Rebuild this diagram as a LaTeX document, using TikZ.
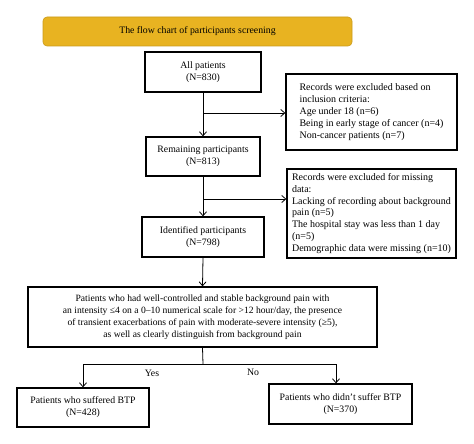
\documentclass[tikz,border=0pt]{standalone}
\usepackage{fontspec}
\setmainfont{Liberation Serif}
\usetikzlibrary{arrows.meta}
\definecolor{gold}{HTML}{E8B321}
\definecolor{golddark}{HTML}{C99A1A}
\tikzset{
  box/.style={draw=black, line width=1.3pt, inner sep=0pt, align=center,
    font=\fontsize{9.8}{12}\selectfont},
  exbox/.style={box, align=left, font=\fontsize{10}{11.8}\selectfont},
  conn/.style={line width=0.8pt, -{Straight Barb[length=4pt,width=7pt]}},
  line/.style={line width=0.8pt},
  lbl/.style={font=\fontsize{9.8}{11}\selectfont, inner sep=0pt}
}
\begin{document}
\begin{tikzpicture}[x=1pt,y=-1pt]
\useasboundingbox (0,0) rectangle (474,444);
\node[draw=golddark, fill=gold, rounded corners=4pt, line width=0.6pt,
  minimum width=309pt, minimum height=29pt, font=\fontsize{9.8}{10}\selectfont]
  (title) at (197.5,31.5) {The flow chart of participants screening};
\node[box, minimum width=116pt, minimum height=40pt] (all) at (203,72) {All patients\\(N=830)};
\node[exbox, minimum width=171pt, minimum height=76pt] (ex1) at (371.5,112)
  {Records were excluded based on\\inclusion criteria:\\Age under 18 (n=6)\\Being in early stage of cancer (n=4)\\Non-cancer patients (n=7)};
\node[box, minimum width=114pt, minimum height=39pt] (rem) at (203,156.5) {Remaining participants\\(N=813)};
\node[exbox, minimum width=169pt, minimum height=89pt] (ex2) at (371.5,213.5)
  {Records were excluded for missing\\data:\\Lacking of recording about background\\pain (n=5)\\The hospital stay was less than 1 day\\(n=5)\\Demographic data were missing (n=10)};
\node[box, minimum width=122pt, minimum height=40pt] (idn) at (203,237) {Identified participants\\(N=798)};
\node[box, minimum width=349pt, minimum height=60pt, font=\fontsize{9.6}{12}\selectfont] (big) at (202.5,317)
  {Patients who had well-controlled and stable background pain with\\an intensity ≤4 on a 0–10 numerical scale for >12 hour/day, the presence\\of transient exacerbations of pain with moderate-severe intensity (≥5),\\as well as clearly distinguish from background pain};
\node[box, minimum width=132pt, minimum height=39pt] (yes) at (83,407.5) {Patients who suffered BTP\\(N=428)};
\node[box, minimum width=143pt, minimum height=40pt] (no) at (340.5,404) {Patients who didn’t suffer BTP\\(N=370)};
\coordinate (b1) at (203,113);
\coordinate (b2) at (203,199);
\coordinate (b3) at (203,364);
\coordinate (bl) at (83,364);
\coordinate (br) at (336,364);
\draw[conn] (all.south) -- (rem.north);
\draw[conn] (b1) -- (b1 -| ex1.west);
\draw[conn] (rem.south) -- (idn.north);
\draw[conn] (b2) -- (b2 -| ex2.west);
\draw[conn] (idn.south) -- (big.north);
\draw[line] (big.south) -- (b3);
\draw[line] (bl) -- (br);
\draw[conn] (bl) -- (bl |- yes.north);
\draw[conn] (br) -- (br |- no.north);
\node[lbl] (lyes) at (152,373) {Yes};
\node[lbl] (lno) at (253,372) {No};
\end{tikzpicture}
\end{document}
